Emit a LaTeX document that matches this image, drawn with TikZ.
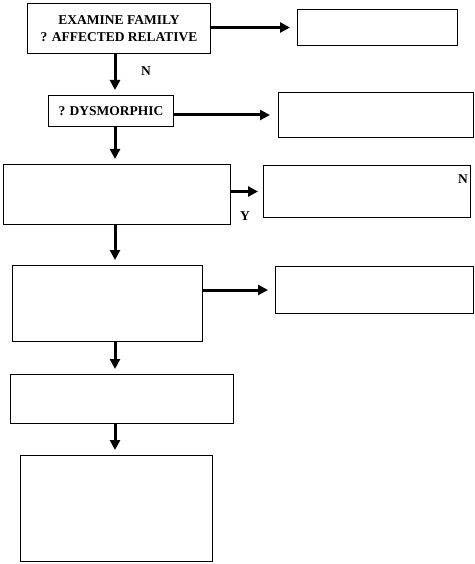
\documentclass[tikz,border=0pt]{standalone}
\usepackage{fontspec}
\setmainfont{Liberation Serif}
\usetikzlibrary{arrows.meta, positioning}

\begin{document}
\begin{tikzpicture}[
    x=1pt, y=-1pt,
    font=\bfseries\fontsize{13.5}{17}\selectfont,
    chart-box/.style={draw, line width=1pt, anchor=north west, inner sep=0pt, align=center},
    flow-arr/.style={line width=3pt, -{Triangle[length=10pt, width=10pt]}, shorten >=5pt},
    tag/.style={inner sep=0pt}
  ]

  \useasboundingbox (0,0) rectangle (474,564);

  % left column
  \node[chart-box, minimum width=183pt, minimum height=50pt] (fam) at (27,3) {EXAMINE FAMILY\\? AFFECTED RELATIVE};
  \node[chart-box, minimum width=125pt, minimum height=31pt] (dys) at (48,95) {? DYSMORPHIC};
  \node[chart-box, minimum width=227pt, minimum height=60pt] (chk) at (3,164) {};
  \node[chart-box, minimum width=190pt, minimum height=76pt] (tst) at (12,265) {};
  \node[chart-box, minimum width=223pt, minimum height=49pt] (rev) at (10,374) {};
  \node[chart-box, minimum width=192pt, minimum height=106pt] (end) at (20,455) {};

  % right column
  \node[chart-box, minimum width=160pt, minimum height=36pt] (famR) at (297,9) {};
  \node[chart-box, minimum width=195pt, minimum height=45pt] (dysR) at (278,92) {};
  \node[chart-box, minimum width=207pt, minimum height=52pt] (chkR) at (263,165) {};
  \node[chart-box, minimum width=198pt, minimum height=47pt] (tstR) at (275,266) {};

  \coordinate (spine) at (115,0);

  \draw[flow-arr] (fam.south -| spine) -- (dys.north -| spine);
  \draw[flow-arr] (dys.south -| spine) -- (chk.north -| spine);
  \draw[flow-arr] (chk.south -| spine) -- (tst.north -| spine);
  \draw[flow-arr] (tst.south -| spine) -- (rev.north -| spine);
  \draw[flow-arr] (rev.south -| spine) -- (end.north -| spine);

  \draw[flow-arr, shorten >=7pt] (fam.east |- famR.west) -- (famR.west);
  \draw[flow-arr, shorten >=8pt] (dys.east |- dysR.west) -- (dysR.west);
  \draw[flow-arr] (chk.east |- chkR.west) -- (chkR.west);
  \draw[flow-arr, shorten >=7pt] (tst.east |- tstR.west) -- (tstR.west);

  \node[tag] (n1) at (146,71) {N};
  \node[tag] (y1) at (245,216) {Y};
  \node[tag] (n2) at (463,179) {N};

\end{tikzpicture}
\end{document}
